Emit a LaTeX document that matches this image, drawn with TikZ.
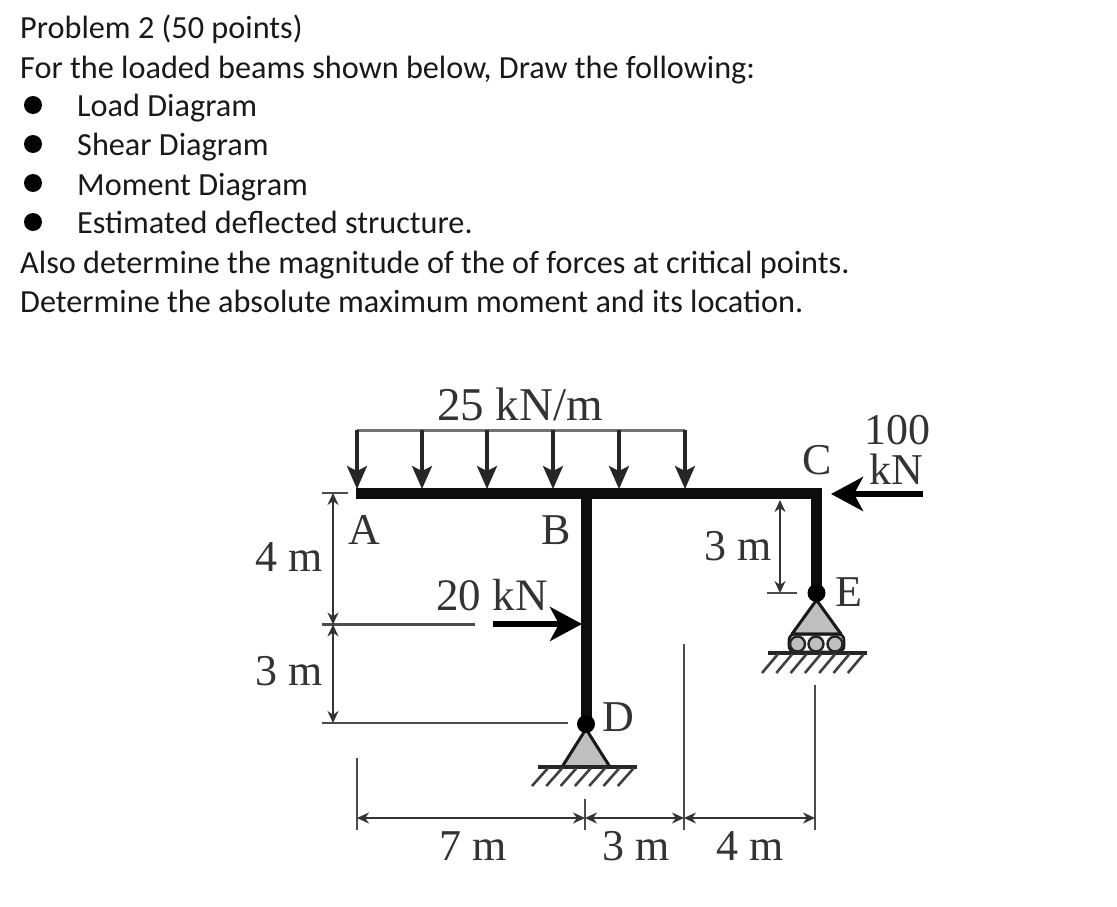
\documentclass[tikz,border=0pt]{standalone}
\usepackage{fontspec}
\setmainfont{Carlito}
\newfontfamily\figfont{Liberation Serif}
\usetikzlibrary{arrows.meta}
\tikzset{
  txt/.style={anchor=base west,inner sep=0pt,font=\fontsize{32.25}{32.25}\selectfont,text=black!90},
  lab/.style={anchor=base,inner sep=0pt,font=\figfont\fontsize{44}{44}\selectfont,text=black!80},
  bul/.style={circle,fill=black,inner sep=0pt,minimum size=18pt},
  member/.style={line width=11pt,black!95},
  thin dim/.style={line width=2.6pt,black!70},
  dimline/.style={line width=2.6pt,black!80,{Stealth[length=12pt,width=11pt]}-{Stealth[length=12pt,width=11pt]}},
  loadbar/.style={line width=3pt,black!55},
  loadarrow/.style={line width=3.2pt,black!85,-{Stealth[length=23pt,width=20pt,inset=5pt]}},
  force/.style={line width=6pt,black,-{Stealth[length=32pt,width=34pt,inset=9pt]}},
  pin/.style={circle,fill=black,inner sep=0pt,minimum size=18pt},
  tri/.style={draw=black!90,fill=black!25,line width=3pt,line join=round},
  ground/.style={line width=3.5pt,black!85},
  hatch/.style={line width=2.6pt,black!75},
  roller/.style={circle,draw=black!85,fill=black!25,line width=2.4pt,inner sep=0pt,minimum size=15pt}
}
\begin{document}
\begin{tikzpicture}[x=1pt,y=-1pt]
\useasboundingbox (0,0) rectangle (1117,907);
% text
\node[txt] (t1) at (20,39) {Problem 2 (50 points)};
\node[txt] (t2) at (20,78) {For the loaded beams shown below, Draw the following:};
\node[txt] (t3) at (77,116) {Load Diagram};
\node[txt] (t4) at (77,155) {Shear Diagram};
\node[txt] (t5) at (77,195) {Moment Diagram};
\node[txt] (t6) at (77,233) {Estimated deflected structure.};
\node[txt] (t7) at (20,273) {Also determine the magnitude of the of forces at critical points.};
\node[txt] (t8) at (20,312) {Determine the absolute maximum moment and its location.};
\node[bul] (b1) at (33,105) {};
\node[bul] (b2) at (33,144) {};
\node[bul] (b3) at (33,183) {};
\node[bul] (b4) at (33,222) {};
% coordinates
\coordinate (A) at (356,493.5);
\coordinate (Bt) at (586,493.5);
\coordinate (C) at (816.5,493.5);
\coordinate (D) at (586,724);
\coordinate (E) at (816.5,593);
% distributed load
\draw[loadbar] (357,430) -- (685,430);
\foreach \x in {357,422,487,553,619,685}
  \draw[loadarrow] (\x,430) -- (\x,489);
% frame
\draw[member,line cap=butt,line join=miter] (A) -- (C) -- (E);
\draw[member] (Bt) -- (D);
% forces
\coordinate (f1s) at (493,624);
\coordinate (f1e) at (582,624);
\coordinate (f2s) at (923,494);
\coordinate (f2e) at (831,494);
\draw[force] (f1s) -- (f1e);
\draw[force] (f2s) -- (f2e);
% support D
\draw[tri] (586,729) -- (562,767) -- (610,767) -- cycle;
\node[pin] (pD) at (D) {};
\draw[ground] (538,767) -- (637,767);
\foreach \x in {532,546.3,560.6,574.9,589.2,603.5,617.8}
  \draw[hatch] (\x,786) -- (\x+16,768);
% support E
\draw[tri] (816.5,600) -- (792,634) -- (841,634) -- cycle;
\draw[line width=2.6pt,black!90,rounded corners=6pt] (789,634) -- (789,652) -- (844,652) -- (844,634) -- cycle;
\node[roller] (r1) at (797.5,644) {};
\node[roller] (r2) at (816,644) {};
\node[roller] (r3) at (835,644) {};
\node[pin] (pE) at (E) {};
\draw[ground] (768,653) -- (867,653);
\foreach \x in {762,776.3,790.6,804.9,819.2,833.5,847.8}
  \draw[hatch] (\x,673) -- (\x+16,654);
% left dimension
\coordinate (l1) at (333,493);
\coordinate (l2) at (333,624.5);
\coordinate (l3) at (333,723);
\draw[thin dim] (322,493) -- (348,493);
\draw[thin dim] (322,624.5) -- (475,624.5);
\draw[thin dim] (322,723) -- (568,723);
\draw[dimline] (l1) -- (l2);
\draw[dimline] (l2) -- (l3);
% 3 m dimension
\coordinate (m1) at (780,500);
\coordinate (m2) at (780,593);
\draw[thin dim] (767,593) -- (797,593);
\draw[dimline] (m1) -- (m2);
% bottom dimension
\coordinate (d1) at (357,818);
\coordinate (d2) at (585,818);
\coordinate (d3) at (684,818);
\coordinate (d4) at (815,818);
\draw[thin dim] (357,758) -- (357,830);
\draw[thin dim] (585,799) -- (585,830);
\draw[thin dim] (684,644) -- (684,830);
\draw[thin dim] (815,685) -- (815,830);
\draw[dimline] (d1) -- (d2);
\draw[dimline] (d2) -- (d3);
\draw[dimline] (d3) -- (d4);
% labels
\node[lab,font=\figfont\fontsize{47}{47}\selectfont] (q) at (520,420) {25 kN/m};
\node[lab] (la) at (364,544) {A};
\node[lab] (lb) at (556,544) {B};
\node[lab] (lc) at (817,474) {C};
\node[lab] (ld) at (618,731) {D};
\node[lab] (le) at (849,606) {E};
\node[lab] (l100) at (897,444) {100};
\node[lab] (lkN) at (896,484) {kN};
\node[lab,font=\figfont\fontsize{45}{45}\selectfont] (l20) at (492,610) {20 kN};
\node[lab] (l4m) at (289,571) {4 m};
\node[lab] (l3m) at (289,685) {3 m};
\node[lab] (l3mb) at (738,560) {3 m};
\node[lab] (l7m) at (473,860) {7 m};
\node[lab] (l3mc) at (636,860) {3 m};
\node[lab] (l4mb) at (750,860) {4 m};
\end{tikzpicture}
\end{document}
